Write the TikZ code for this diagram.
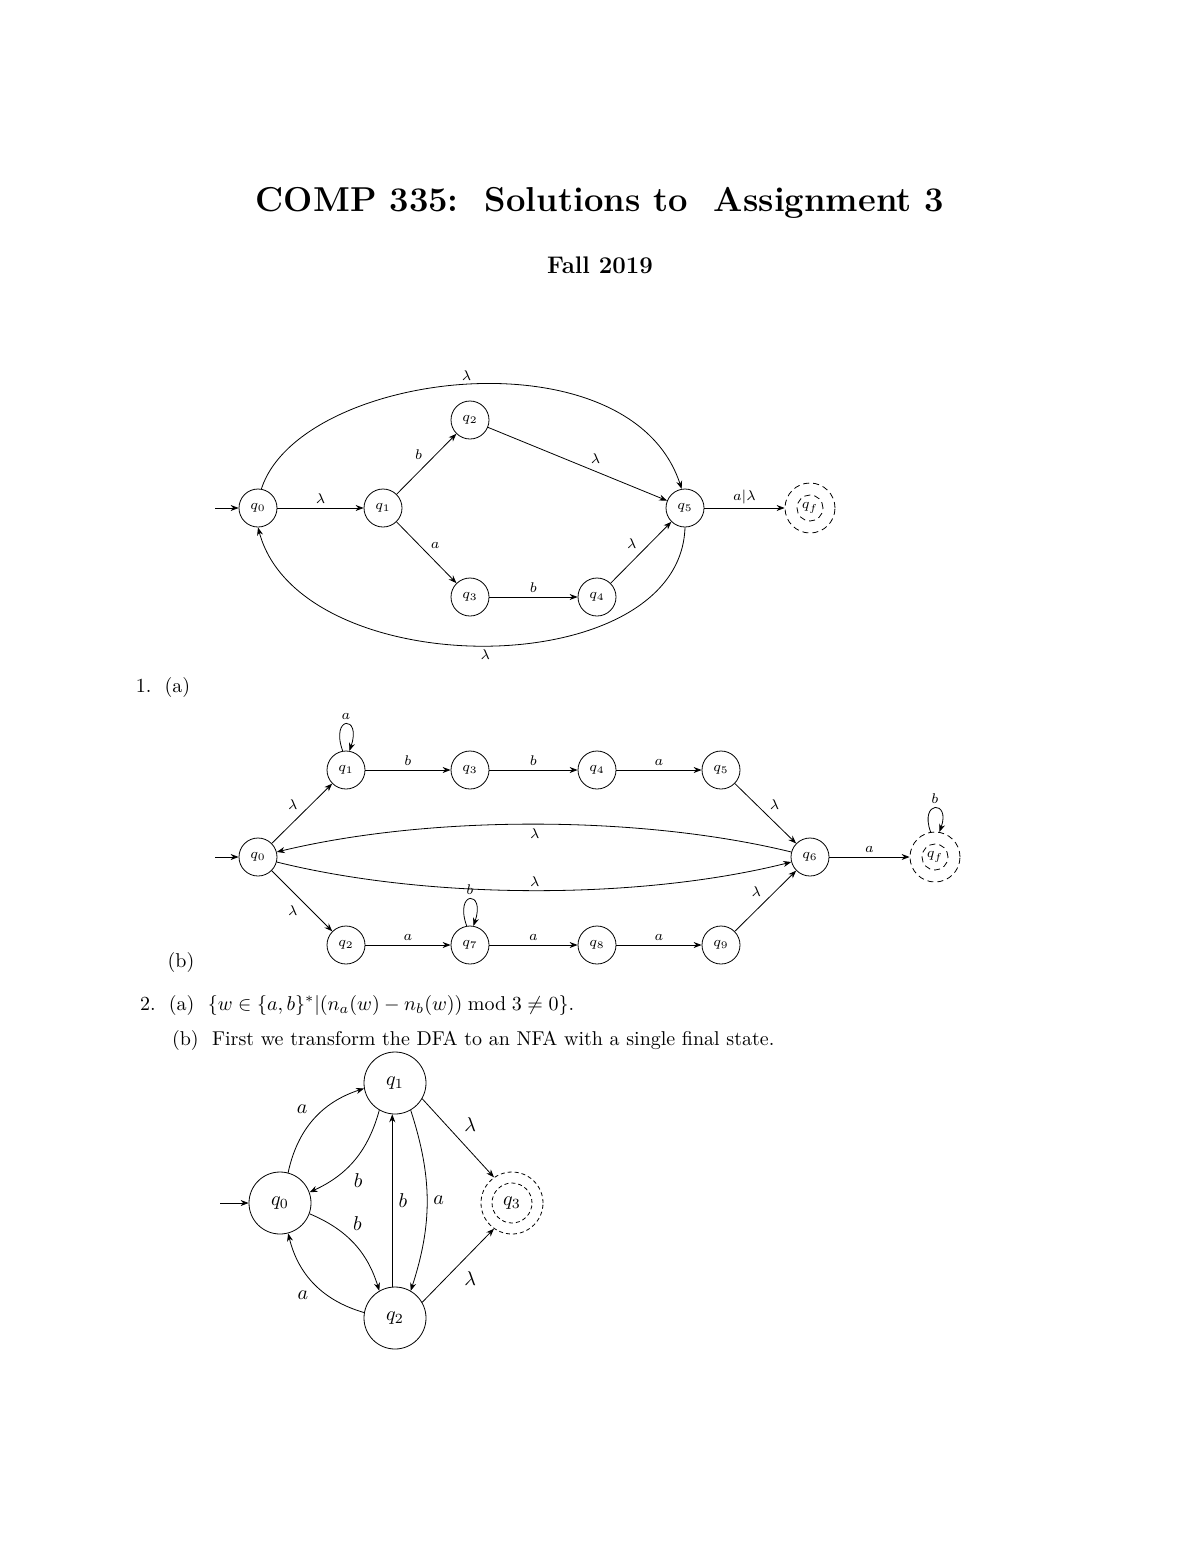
\documentclass[tikz,border=0pt]{standalone}
\usetikzlibrary{arrows.meta}
\begin{document}
\begin{tikzpicture}[x=0.5pt,y=-0.5pt,
  st/.style={circle,draw,minimum size=19pt,inner sep=0pt,font=\scriptsize},
  fin/.style={circle,draw,densely dashed,minimum size=25pt,inner sep=0pt,font=\scriptsize,
     path picture={\draw[densely dashed] (path picture bounding box.center) circle (6.5pt);}},
  bst/.style={circle,draw,minimum size=31pt,inner sep=0pt},
  bfin/.style={circle,draw,dash pattern=on 2pt off 1.5pt,minimum size=31pt,inner sep=0pt,
     path picture={\draw[dash pattern=on 2pt off 1.5pt] (path picture bounding box.center) circle (10pt);}},
  e/.style={-{Stealth[length=4pt,width=3pt]},thin},
  lb/.style={font=\scriptsize,inner sep=2pt},
  lbb/.style={font=\normalsize,inner sep=3pt}]
\useasboundingbox (0,0) rectangle (1200,1553);
\node (title) at (600,203) {\LARGE\bfseries COMP 335:\ \ Solutions to\ \ Assignment 3};
\node (fall) at (600,265) {\large\bfseries Fall 2019};
% Diagram 1
\node[st] (a0) at (258,508) {$q_0$};
\node[st] (a1) at (383,508) {$q_1$};
\node[st] (a2) at (470,420) {$q_2$};
\node[st] (a3) at (470,597) {$q_3$};
\node[st] (a4) at (597,597) {$q_4$};
\node[st] (a5) at (685,508) {$q_5$};
\node[fin] (af) at (810,508) {$q_f$};
\coordinate (as) at (215,508);
\draw[e] (as) -- (a0);
\draw[e] (a0) -- node[lb,above]{$\lambda$} (a1);
\draw[e] (a1) -- node[lb,above left]{$b$} (a2);
\draw[e] (a1) -- node[lb,above right]{$a$} (a3);
\draw[e] (a3) -- node[lb,above]{$b$} (a4);
\draw[e] (a4) -- node[lb,above left]{$\lambda$} (a5);
\draw[e] (a2) -- node[lb,above right,pos=0.55]{$\lambda$} (a5);
\draw[e] (a5) -- node[lb,above]{$a|\lambda$} (af);
\draw[e] (a0.80) .. controls (300,370) and (630,330) .. node[lb,above,pos=0.5]{$\lambda$} (a5.100);
\draw[e] (a5.270) .. controls (680,685) and (300,685) .. node[lb,below,pos=0.5]{$\lambda$} (a0.270);
\node (l1a) at (163,687) {1.\ \ (a)};
% Diagram 2
\node[st] (b0) at (258,857) {$q_0$};
\node[st] (b1) at (346,770) {$q_1$};
\node[st] (b3) at (470,770) {$q_3$};
\node[st] (b4) at (597,770) {$q_4$};
\node[st] (b5) at (721,770) {$q_5$};
\node[st] (b6) at (810,857) {$q_6$};
\node[fin] (bf) at (935,857) {$q_f$};
\node[st] (b2) at (346,945) {$q_2$};
\node[st] (b7) at (470,945) {$q_7$};
\node[st] (b8) at (597,945) {$q_8$};
\node[st] (b9) at (721,945) {$q_9$};
\coordinate (bs) at (215,857);
\draw[e] (bs) -- (b0);
\draw[e] (b0) -- node[lb,above left]{$\lambda$} (b1);
\draw[e] (b0) -- node[lb,below left]{$\lambda$} (b2);
\draw[e] (b1) -- node[lb,above]{$b$} (b3);
\draw[e] (b3) -- node[lb,above]{$b$} (b4);
\draw[e] (b4) -- node[lb,above]{$a$} (b5);
\draw[e] (b5) -- node[lb,above right]{$\lambda$} (b6);
\draw[e] (b2) -- node[lb,above]{$a$} (b7);
\draw[e] (b7) -- node[lb,above]{$a$} (b8);
\draw[e] (b8) -- node[lb,above]{$a$} (b9);
\draw[e] (b9) -- node[lb,above left]{$\lambda$} (b6);
\draw[e] (b6) -- node[lb,above]{$a$} (bf);
\draw[e] (b6.165) .. controls (640,815) and (430,815) .. node[lb,below,pos=0.5]{$\lambda$} (b0.15);
\draw[e] (b0.345) .. controls (430,900) and (640,900) .. node[lb,above,pos=0.5]{$\lambda$} (b6.195);
\draw[e] (b1.100) .. controls (330,715) and (362,715) .. node[lb,above]{$a$} (b1.80);
\draw[e] (b7.100) .. controls (454,890) and (486,890) .. node[lb,above]{$b$} (b7.80);
\draw[e] (bf.100) .. controls (919,800) and (951,800) .. node[lb,above]{$b$} (bf.80);
\node (l1b) at (181,962) {(b)};
% Text
\node[anchor=west] (l2a) at (133,1005) {2.\ \ (a)\ \ $\{w\in\{a,b\}^*|(n_a(w)-n_b(w)) \bmod 3\neq 0\}$.};
\node[anchor=west] (l2b) at (165,1040) {(b)\ \ First we transform the DFA to an NFA with a single final state.};
% Diagram 3
\node[bst] (c0) at (280,1203) {$q_0$};
\node[bst] (c1) at (395,1083) {$q_1$};
\node[bst] (c2) at (395,1318) {$q_2$};
\node[bfin] (c3) at (512,1203) {$q_3$};
\coordinate (cs) at (220,1203);
\draw[e] (cs) -- (c0);
\draw[e] (c0.75) to[bend left=30] node[lbb,above left]{$a$} (c1.190);
\draw[e] (c1.240) to[bend left=25] node[lbb,below right,pos=0.6]{$b$} (c0.20);
\draw[e] (c0.340) to[bend left=25] node[lbb,above right,pos=0.4]{$b$} (c2.120);
\draw[e] (c2.170) to[bend left=30] node[lbb,below left]{$a$} (c0.285);
\draw[e] (c2.95) -- node[lbb,right]{$b$} (c1.265);
\draw[e] (c1.300) to[bend left=18] node[lbb,right]{$a$} (c2.60);
\draw[e] (c1.330) -- node[lbb,above right]{$\lambda$} (c3.125);
\draw[e] (c2.30) -- node[lbb,below right]{$\lambda$} (c3.235);
\end{tikzpicture}
\end{document}
